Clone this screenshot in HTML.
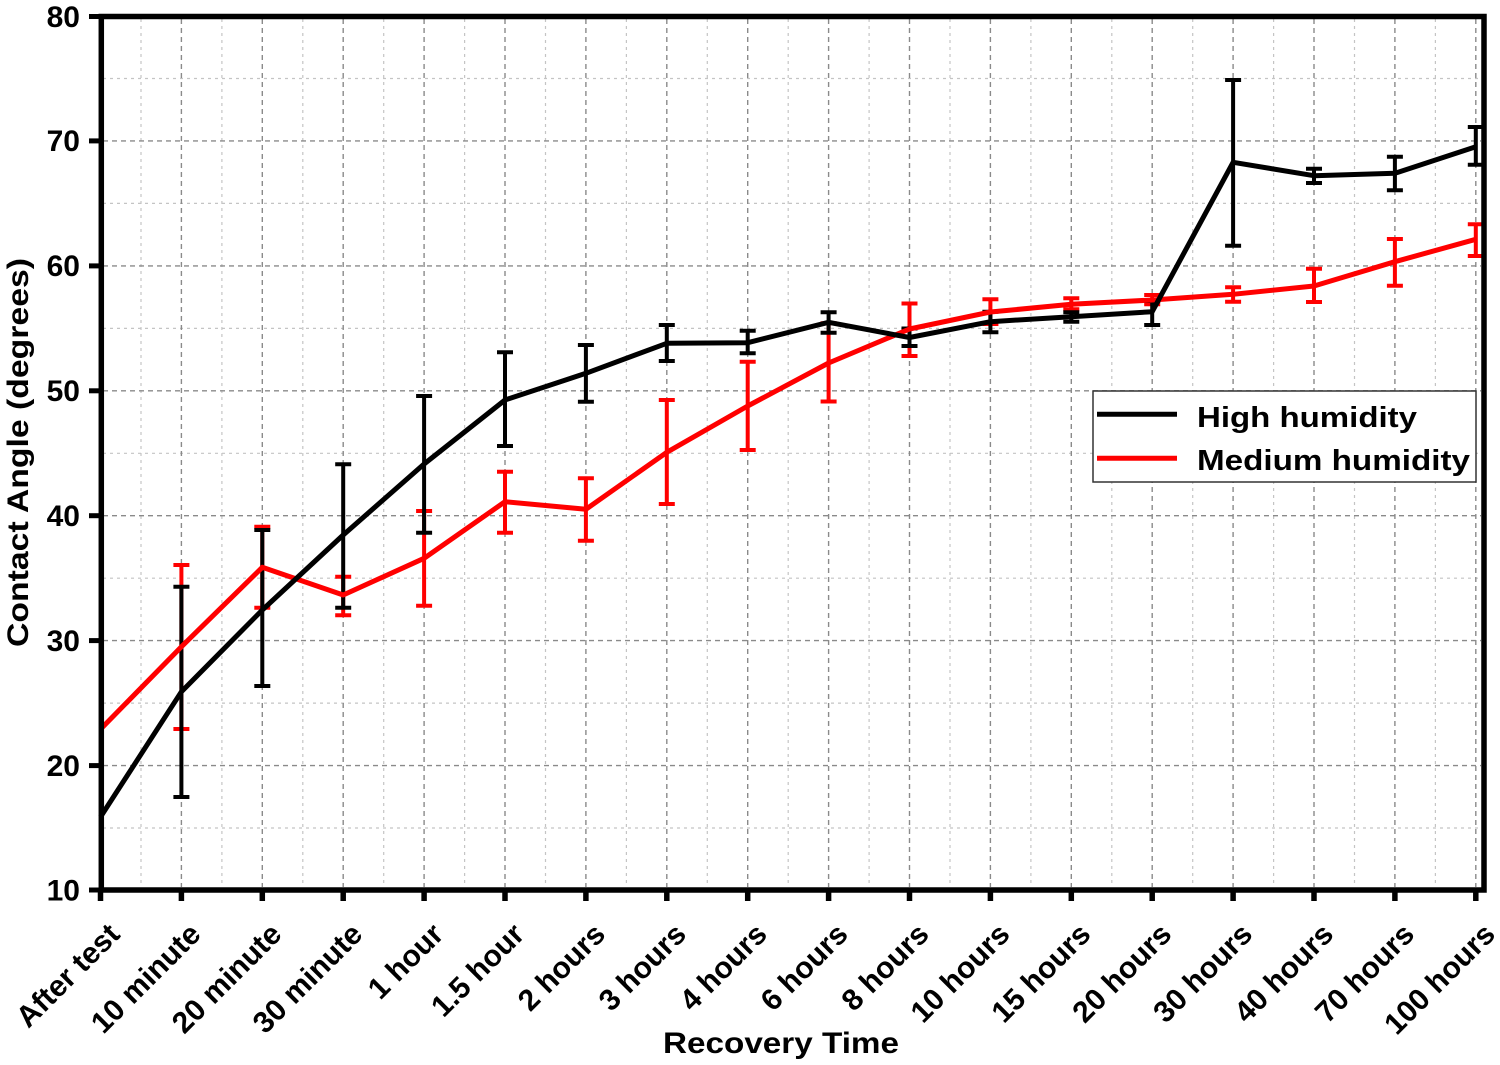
<!DOCTYPE html>
<html><head><meta charset="utf-8"><style>
html,body{margin:0;padding:0;background:#fff;}
svg{display:block;}
text{font-family:"Liberation Sans",Arial,sans-serif;font-weight:bold;fill:#000;}
</style></head><body>
<svg width="1500" height="1065" viewBox="0 0 1500 1065" xmlns="http://www.w3.org/2000/svg">
<!-- minor grid -->
<g stroke="#c4c4c4" stroke-width="1.2" stroke-dasharray="3,4" fill="none">
<line x1="103" x2="1481" y1="828.0" y2="828.0"/>
<line x1="103" x2="1481" y1="703.1" y2="703.1"/>
<line x1="103" x2="1481" y1="578.2" y2="578.2"/>
<line x1="103" x2="1481" y1="453.3" y2="453.3"/>
<line x1="103" x2="1481" y1="328.4" y2="328.4"/>
<line x1="103" x2="1481" y1="203.4" y2="203.4"/>
<line x1="103" x2="1481" y1="78.5" y2="78.5"/>
<line y1="19" y2="887" x1="141.0" x2="141.0"/>
<line y1="19" y2="887" x1="221.9" x2="221.9"/>
<line y1="19" y2="887" x1="302.8" x2="302.8"/>
<line y1="19" y2="887" x1="383.7" x2="383.7"/>
<line y1="19" y2="887" x1="464.6" x2="464.6"/>
<line y1="19" y2="887" x1="545.5" x2="545.5"/>
<line y1="19" y2="887" x1="626.4" x2="626.4"/>
<line y1="19" y2="887" x1="707.3" x2="707.3"/>
<line y1="19" y2="887" x1="788.2" x2="788.2"/>
<line y1="19" y2="887" x1="869.1" x2="869.1"/>
<line y1="19" y2="887" x1="950.0" x2="950.0"/>
<line y1="19" y2="887" x1="1030.9" x2="1030.9"/>
<line y1="19" y2="887" x1="1111.8" x2="1111.8"/>
<line y1="19" y2="887" x1="1192.7" x2="1192.7"/>
<line y1="19" y2="887" x1="1273.6" x2="1273.6"/>
<line y1="19" y2="887" x1="1354.5" x2="1354.5"/>
<line y1="19" y2="887" x1="1435.4" x2="1435.4"/>
</g>
<!-- major grid -->
<g stroke="#8a8a8a" stroke-width="1.4" stroke-dasharray="5,4" fill="none">
<line x1="103" x2="1481" y1="765.6" y2="765.6"/>
<line x1="103" x2="1481" y1="640.6" y2="640.6"/>
<line x1="103" x2="1481" y1="515.7" y2="515.7"/>
<line x1="103" x2="1481" y1="390.8" y2="390.8"/>
<line x1="103" x2="1481" y1="265.9" y2="265.9"/>
<line x1="103" x2="1481" y1="140.9" y2="140.9"/>
<line y1="19" y2="887" x1="181.4" x2="181.4"/>
<line y1="19" y2="887" x1="262.3" x2="262.3"/>
<line y1="19" y2="887" x1="343.2" x2="343.2"/>
<line y1="19" y2="887" x1="424.1" x2="424.1"/>
<line y1="19" y2="887" x1="505.0" x2="505.0"/>
<line y1="19" y2="887" x1="585.9" x2="585.9"/>
<line y1="19" y2="887" x1="666.8" x2="666.8"/>
<line y1="19" y2="887" x1="747.7" x2="747.7"/>
<line y1="19" y2="887" x1="828.6" x2="828.6"/>
<line y1="19" y2="887" x1="909.5" x2="909.5"/>
<line y1="19" y2="887" x1="990.4" x2="990.4"/>
<line y1="19" y2="887" x1="1071.3" x2="1071.3"/>
<line y1="19" y2="887" x1="1152.2" x2="1152.2"/>
<line y1="19" y2="887" x1="1233.1" x2="1233.1"/>
<line y1="19" y2="887" x1="1314.0" x2="1314.0"/>
<line y1="19" y2="887" x1="1394.9" x2="1394.9"/>
<line y1="19" y2="887" x1="1475.8" x2="1475.8"/>
</g>

<!-- red error bars -->
<g stroke="#ff0000" stroke-width="4" fill="none">
<path d="M181.4 565V729M173.4 565H189.4M173.4 729H189.4"/>
<path d="M262.3 526.7V607.7M254.3 526.7H270.3M254.3 607.7H270.3"/>
<path d="M343.2 576.7V615.3M335.2 576.7H351.2M335.2 615.3H351.2"/>
<path d="M424.1 511V605.7M416.1 511H432.1M416.1 605.7H432.1"/>
<path d="M505.0 471.7V532.7M497.0 471.7H513.0M497.0 532.7H513.0"/>
<path d="M585.9 478.3V540.7M577.9 478.3H593.9M577.9 540.7H593.9"/>
<path d="M666.8 400V504M658.8 400H674.8M658.8 504H674.8"/>
<path d="M747.7 361.7V450M739.7 361.7H755.7M739.7 450H755.7"/>
<path d="M828.6 323.3V401.5M820.6 323.3H836.6M820.6 401.5H836.6"/>
<path d="M909.5 303.5V356M901.5 303.5H917.5M901.5 356H917.5"/>
<path d="M990.4 299.3V324M982.4 299.3H998.4M982.4 324H998.4"/>
<path d="M1071.3 298.3V309.3M1063.3 298.3H1079.3M1063.3 309.3H1079.3"/>
<path d="M1152.2 295V304.3M1144.2 295H1160.2M1144.2 304.3H1160.2"/>
<path d="M1233.1 287.3V301.7M1225.1 287.3H1241.1M1225.1 301.7H1241.1"/>
<path d="M1314.0 268.7V302M1306.0 268.7H1322.0M1306.0 302H1322.0"/>
<path d="M1394.9 239V285.7M1386.9 239H1402.9M1386.9 285.7H1402.9"/>
<path d="M1475.8 224.3V256M1467.8 224.3H1483.8M1467.8 256H1483.8"/>
</g>
<!-- black error bars -->
<g stroke="#000" stroke-width="4" fill="none">
<path d="M181.4 586.7V797M173.4 586.7H189.4M173.4 797H189.4"/>
<path d="M262.3 530V686M254.3 530H270.3M254.3 686H270.3"/>
<path d="M343.2 464.3V607.7M335.2 464.3H351.2M335.2 607.7H351.2"/>
<path d="M424.1 396V532.7M416.1 396H432.1M416.1 532.7H432.1"/>
<path d="M505.0 352.3V446M497.0 352.3H513.0M497.0 446H513.0"/>
<path d="M585.9 345V401.7M577.9 345H593.9M577.9 401.7H593.9"/>
<path d="M666.8 325V361M658.8 325H674.8M658.8 361H674.8"/>
<path d="M747.7 330.7V353.3M739.7 330.7H755.7M739.7 353.3H755.7"/>
<path d="M828.6 312.3V332.7M820.6 312.3H836.6M820.6 332.7H836.6"/>
<path d="M909.5 328.5V346M901.5 328.5H917.5M901.5 346H917.5"/>
<path d="M990.4 311.7V332.3M982.4 311.7H998.4M982.4 332.3H998.4"/>
<path d="M1071.3 312.3V321.7M1063.3 312.3H1079.3M1063.3 321.7H1079.3"/>
<path d="M1152.2 301V325M1144.2 301H1160.2M1144.2 325H1160.2"/>
<path d="M1233.1 80V245.7M1225.1 80H1241.1M1225.1 245.7H1241.1"/>
<path d="M1314.0 168.7V183M1306.0 168.7H1322.0M1306.0 183H1322.0"/>
<path d="M1394.9 156.7V190.3M1386.9 156.7H1402.9M1386.9 190.3H1402.9"/>
<path d="M1475.8 127V164.7M1467.8 127H1483.8M1467.8 164.7H1483.8"/>
</g>

<!-- red line -->
<polyline fill="none" stroke="#ff0000" stroke-width="5" stroke-linejoin="round" points="100.5,729.3 181.4,646.7 262.3,567.3 343.2,595 424.1,558.3 505.0,501.7 585.9,509.3 666.8,452.3 747.7,406 828.6,363 909.5,329 990.4,312 1071.3,304.3 1152.2,300 1233.1,294.3 1314.0,286 1394.9,261.7 1475.8,239.3"/>
<!-- black line -->
<polyline fill="none" stroke="#000" stroke-width="5" stroke-linejoin="round" points="100.5,817 181.4,691.7 262.3,610 343.2,535 424.1,464 505.0,400 585.9,373.3 666.8,343.3 747.7,342.7 828.6,322.3 909.5,337.5 990.4,321.7 1071.3,316.7 1152.2,311.7 1233.1,162.3 1314.0,175.7 1394.9,173.3 1475.8,146.7"/>

<!-- axes frame -->
<rect x="101.3" y="16.5" width="1382.7" height="873.5" fill="none" stroke="#000" stroke-width="5.5"/>
<!-- y ticks -->
<g stroke="#000" stroke-width="5">
<line x1="89" x2="101" y1="890" y2="890"/>
<line x1="89" x2="101" y1="765.6" y2="765.6"/>
<line x1="89" x2="101" y1="640.6" y2="640.6"/>
<line x1="89" x2="101" y1="515.7" y2="515.7"/>
<line x1="89" x2="101" y1="390.8" y2="390.8"/>
<line x1="89" x2="101" y1="265.9" y2="265.9"/>
<line x1="89" x2="101" y1="140.9" y2="140.9"/>
<line x1="89" x2="101" y1="16.5" y2="16.5"/>
</g>
<!-- x ticks -->
<g stroke="#000" stroke-width="5.5">
<line y1="890" y2="901" x1="100.5" x2="100.5"/>
<line y1="890" y2="901" x1="181.4" x2="181.4"/>
<line y1="890" y2="901" x1="262.3" x2="262.3"/>
<line y1="890" y2="901" x1="343.2" x2="343.2"/>
<line y1="890" y2="901" x1="424.1" x2="424.1"/>
<line y1="890" y2="901" x1="505.0" x2="505.0"/>
<line y1="890" y2="901" x1="585.9" x2="585.9"/>
<line y1="890" y2="901" x1="666.8" x2="666.8"/>
<line y1="890" y2="901" x1="747.7" x2="747.7"/>
<line y1="890" y2="901" x1="828.6" x2="828.6"/>
<line y1="890" y2="901" x1="909.5" x2="909.5"/>
<line y1="890" y2="901" x1="990.4" x2="990.4"/>
<line y1="890" y2="901" x1="1071.3" x2="1071.3"/>
<line y1="890" y2="901" x1="1152.2" x2="1152.2"/>
<line y1="890" y2="901" x1="1233.1" x2="1233.1"/>
<line y1="890" y2="901" x1="1314.0" x2="1314.0"/>
<line y1="890" y2="901" x1="1394.9" x2="1394.9"/>
<line y1="890" y2="901" x1="1475.8" x2="1475.8"/>
</g>

<!-- y tick labels -->
<g font-size="30" text-anchor="end">
<text x="80" y="900.5">10</text>
<text x="80" y="776">20</text>
<text x="80" y="651">30</text>
<text x="80" y="526">40</text>
<text x="80" y="401">50</text>
<text x="80" y="276">60</text>
<text x="80" y="151">70</text>
<text x="80" y="27">80</text>
</g>
<!-- x tick labels -->
<g font-size="30" text-anchor="end">
<text transform="translate(121.5,936) rotate(-45)">After test</text>
<text transform="translate(202.4,936) rotate(-45)">10 minute</text>
<text transform="translate(283.3,936) rotate(-45)">20 minute</text>
<text transform="translate(364.2,936) rotate(-45)">30 minute</text>
<text transform="translate(445.1,936) rotate(-45)">1 hour</text>
<text transform="translate(526.0,936) rotate(-45)">1.5 hour</text>
<text transform="translate(606.9,936) rotate(-45)">2 hours</text>
<text transform="translate(687.8,936) rotate(-45)">3 hours</text>
<text transform="translate(768.7,936) rotate(-45)">4 hours</text>
<text transform="translate(849.6,936) rotate(-45)">6 hours</text>
<text transform="translate(930.5,936) rotate(-45)">8 hours</text>
<text transform="translate(1011.4,936) rotate(-45)">10 hours</text>
<text transform="translate(1092.3,936) rotate(-45)">15 hours</text>
<text transform="translate(1173.2,936) rotate(-45)">20 hours</text>
<text transform="translate(1254.1,936) rotate(-45)">30 hours</text>
<text transform="translate(1335.0,936) rotate(-45)">40 hours</text>
<text transform="translate(1415.9,936) rotate(-45)">70 hours</text>
<text transform="translate(1496.8,936) rotate(-45)">100 hours</text>
</g>

<!-- axis titles -->
<text x="663" y="1053" font-size="30" textLength="236" lengthAdjust="spacingAndGlyphs">Recovery Time</text>
<text transform="translate(28,452.5) rotate(-90)" font-size="30" text-anchor="middle" textLength="389" lengthAdjust="spacingAndGlyphs">Contact Angle (degrees)</text>

<!-- legend -->
<rect x="1093" y="391" width="383" height="91" fill="#fff" stroke="#333" stroke-width="1.5"/>
<line x1="1097" x2="1177" y1="414.3" y2="414.3" stroke="#000" stroke-width="5"/>
<line x1="1097" x2="1177" y1="458.3" y2="458.3" stroke="#ff0000" stroke-width="5"/>
<text x="1197" y="427" font-size="29" textLength="220" lengthAdjust="spacingAndGlyphs">High humidity</text>
<text x="1197" y="470" font-size="29" textLength="273" lengthAdjust="spacingAndGlyphs">Medium humidity</text>
</svg>
</body></html>
